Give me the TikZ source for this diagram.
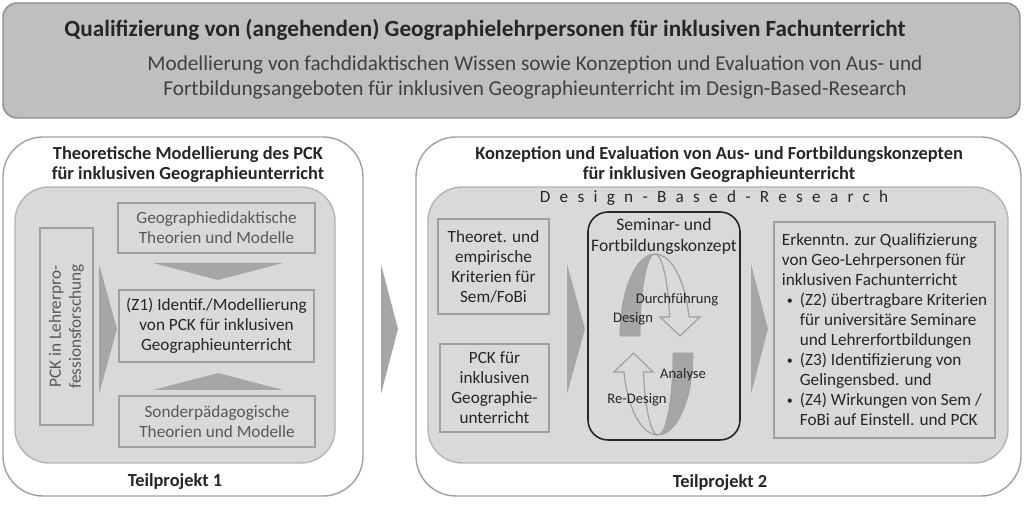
\documentclass[tikz,border=0pt]{standalone}
\usepackage{fontspec}
\usepackage{graphicx}
\setmainfont{Carlito}
\usetikzlibrary{calc}

\definecolor{topfill}{HTML}{BFBFBF}
\definecolor{topline}{HTML}{8C8C8C}
\definecolor{frame}{HTML}{A0A0A0}
\definecolor{innerfill}{HTML}{D9D9D9}
\definecolor{innerline}{HTML}{B4B4B4}
\definecolor{chevfill}{HTML}{A6A6A6}
\definecolor{txtgray}{HTML}{595959}
\definecolor{txtdark}{HTML}{262626}
\definecolor{subgray}{HTML}{404040}

% kleiner Aufzaehlungspunkt
\newcommand{\pktitem}{\hspace*{2.5pt}\makebox[6.5pt][l]{\raisebox{0.6pt}{\scalebox{0.7}{\textbullet}}}}

\tikzset{
  panel/.style={draw=frame, line width=0.7pt, rounded corners=20pt},
  innerpanel/.style={draw=innerline, fill=innerfill, line width=0.7pt, rounded corners=17pt},
  box/.style={draw=frame, fill=innerfill, line width=0.7pt, align=center, inner sep=0pt,
    font=\fontsize{8.6}{10}\selectfont, text=txtdark},
  head/.style={inner sep=0pt, align=center, text=txtdark,
    font=\fontsize{9.2}{10}\selectfont\bfseries},
  chev/.style={fill=chevfill},
  cycfront/.style={fill=chevfill, draw=frame, line width=0.4pt},
  cycback/.style={fill=innerfill, draw=frame, line width=0.6pt},
  cyclabel/.style={inner sep=0pt, text=txtdark, font=\fontsize{7.3}{8}\selectfont},
}

\begin{document}
\begin{tikzpicture}[x=0.5pt, y=-0.5pt]
    \useasboundingbox (0,0) rectangle (1024,506);

    % Kopf:
    % grauer Balken mit Titel und Untertitel
    \node[draw=topline, fill=topfill, line width=0.7pt, rounded corners=7pt,
          minimum width=508.5pt, minimum height=57.5pt, inner sep=0pt] (kopf) at (511.5,60.5) {};
    \node[inner sep=0pt, text=txtdark, font=\fontsize{11.6}{13}\selectfont\bfseries] (titel) at (485,30)
        {Qualifizierung von (angehenden) Geographielehrpersonen für inklusiven Fachunterricht};
    \node[inner sep=0pt, align=center, text=subgray, font=\fontsize{10.6}{12.5}\selectfont] (untertitel) at (535,77.5)
        {Modellierung von fachdidaktischen Wissen sowie Konzeption und Evaluation von Aus- und\\
         Fortbildungsangeboten für inklusiven Geographieunterricht im Design-Based-Research};

    % Teilprojekt 1:
    \node[panel, fill=white, minimum width=180pt, minimum height=179.5pt] (tp1) at (183,316.5) {};
    \node[head] (tp1titel) at (188,165) {Theoretische Modellierung des PCK\\für inklusiven Geographieunterricht};
    \node[innerpanel, minimum width=160pt, minimum height=138pt] (tp1innen) at (175,325) {};
    \node[box, rotate=90, text=txtgray, minimum width=98.5pt, minimum height=26.5pt] (pckforschung) at (66.5,326.5)
        {PCK in Lehrerpro-\\fessionsforschung};
    \node[box, text=txtgray, minimum width=98.5pt, minimum height=25pt] (geodidaktik) at (216.5,228)
        {Geographiedidaktische\\Theorien und Modelle};
    \node[box, minimum width=97.5pt, minimum height=36pt] (z1) at (216.5,326)
        {(Z1) Identif./Modellierung\\von PCK für inklusiven\\Geographieunterricht};
    \node[box, text=txtgray, minimum width=98pt, minimum height=25.5pt] (sonderpaed) at (217,421.5)
        {Sonderpädagogische\\Theorien und Modelle};
    \fill[chev] (153,263) -- (283,263) -- (218,280) -- cycle;
    \fill[chev] (153,390) -- (283,390) -- (218,373) -- cycle;
    \node[head] (tp1name) at (175,482) {Teilprojekt 1};

    % Teilprojekt 2:
    \node[panel, fill=white, minimum width=302.5pt, minimum height=179.5pt] (tp2) at (718.5,316.5) {};
    \node[head] (tp2titel) at (719,165) {Konzeption und Evaluation von Aus- und Fortbildungskonzepten\\für inklusiven Geographieunterricht};
    \node[innerpanel, minimum width=290pt, minimum height=138pt] (tp2innen) at (718,325) {};
    \node[inner sep=0pt, text=txtdark, font=\fontsize{8.6}{10}\selectfont\addfontfeature{LetterSpace=54}] (dbr) at (714,198)
        {Design-Based-Research};
    \node[box, minimum width=55.5pt, minimum height=47.5pt] (kriterien) at (493.5,266.5)
        {Theoret. und\\empirische\\Kriterien für\\Sem/FoBi};
    \node[box, minimum width=54.5pt, minimum height=44pt] (pck) at (494.5,388)
        {PCK für\\inklusiven\\Geographie-\\unterricht};
    \node[draw=txtdark, line width=0.8pt, rounded corners=10pt, minimum width=76pt, minimum height=114pt,
          inner sep=0pt] (konzept) at (664,326) {};
    \node[inner sep=0pt, align=center, text=txtdark, font=\fontsize{8.8}{10.5}\selectfont] (konzepttitel) at (664,236.5)
        {Seminar- und\\Fortbildungskonzept};
    \node[box, align=left, minimum width=110.5pt, minimum height=108pt] (erkenntnis) at (884.5,330)
        {Erkenntn. zur Qualifizierung\\
         von Geo-Lehrpersonen für\\
         inklusiven Fachunterricht\\
         \pktitem(Z2) übertragbare Kriterien\\
         \hspace*{9pt}für universitäre Seminare\\
         \hspace*{9pt}und Lehrerfortbildungen\\
         \pktitem(Z3) Identifizierung von\\
         \hspace*{9pt}Gelingensbed. und\\
         \pktitem(Z4) Wirkungen von Sem /\\
         \hspace*{9pt}FoBi auf Einstell. und PCK};
    \node[head] (tp2name) at (720,483) {Teilprojekt 2};

    % Pfeilspitzen nach rechts:
    \foreach \x/\w in {99/18, 381/17, 567/18, 751/17}{%
        \fill[chev] (\x,264) -- (\x+\w,329) -- (\x,394) -- cycle;
    }

    % Zyklus im Konzept:
    % hinten liegende Baender zuerst, dann die grauen vorderen
    \draw[cycback] (655,254) arc[start angle=270, end angle=346.6, x radius=35, y radius=82]
        -- (700,317) -- (680,336) -- (660,317) -- (669.6,317)
        arc[start angle=346.6, end angle=270, x radius=15, y radius=82] -- cycle;
    \draw[cycback] (658,435) arc[start angle=90, end angle=166.6, x radius=35, y radius=82]
        -- (614,372) -- (633.5,353) -- (653,372) -- (643.4,372)
        arc[start angle=166.6, end angle=90, x radius=15, y radius=82] -- cycle;
    \draw[cycfront] (620,336) arc[start angle=180, end angle=270, x radius=35, y radius=82]
        arc[start angle=270, end angle=180, x radius=15, y radius=82] -- cycle;
    \draw[cycfront] (693,353) arc[start angle=0, end angle=90, x radius=35, y radius=82]
        arc[start angle=90, end angle=0, x radius=15, y radius=82] -- cycle;
    \node[cyclabel] (durchf) at (677,300) {Durchführung};
    \node[cyclabel] (design) at (633,319) {Design};
    \node[cyclabel] (analyse) at (683,375) {Analyse};
    \node[cyclabel] (redesign) at (637,400) {Re-Design};
\end{tikzpicture}
\end{document}
